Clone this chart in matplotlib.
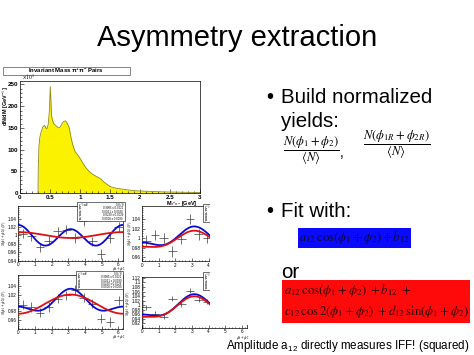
import matplotlib
matplotlib.use("Agg")
import matplotlib.pyplot as plt
import numpy as np
from matplotlib.patches import Rectangle
from matplotlib.ticker import FuncFormatter, MultipleLocator

plt.rcParams["font.family"] = ["Liberation Sans", "DejaVu Sans"]
plt.rcParams["mathtext.fontset"] = "stix"

W, H = 474, 355

# ----- invariant mass spectrum (x10^3 counts) -----
MASS_GEV = [0.300, 0.305, 0.315, 0.33, 0.35, 0.38, 0.41, 0.43, 0.45, 0.47,
            0.49, 0.505, 0.515, 0.525, 0.54, 0.56, 0.60, 0.64, 0.67, 0.70,
            0.73, 0.76, 0.79, 0.82, 0.85, 0.88, 0.92, 0.96, 1.00, 1.05,
            1.10, 1.15, 1.20, 1.25, 1.30, 1.35, 1.40, 1.45, 1.50, 1.60,
            1.70, 1.80, 1.90, 2.00, 2.20, 2.40, 2.60, 2.80, 3.00]
YIELD_K = [0, 60, 105, 128, 140, 152, 156, 150, 148, 158,
           190, 245, 215, 180, 168, 160, 155, 150, 152, 160,
           165, 166, 160, 150, 128, 110, 95, 88, 80, 68,
           58, 50, 44, 40, 36, 32, 25, 20, 15, 11,
           9, 7, 5.5, 4.5, 3.5, 2.5, 2.0, 1.5, 1.2]

# ----- normalized yields vs phi1+phi2 -----
PHI_CENTERS = [0.26, 0.79, 1.31, 1.83, 2.36, 2.88, 3.40, 3.93, 4.45, 4.97, 5.50, 6.02]
PHI_HALF = 0.26
TL_YIELD = [1.004, 0.998, 0.972, 0.988, 1.010, 1.014, 0.994, 1.034, 0.986, 0.956, 0.994, 1.020]
TR_YIELD = [0.995, 1.007, 1.000, 0.972, 0.998, 1.041, 1.008, 1.000]
BL_YIELD = [0.996, 0.990, 0.976, 0.990, 1.010, 1.018, 1.032, 1.012, 0.998, 0.962, 0.954, 1.006]
BR_YIELD = [0.990, 0.963, 0.949, 1.029, 1.005, 1.064, 1.025, 1.015]
ERR = 0.011

# fit parameters [b, a (cos phi), c (cos 2phi)]
TL_BLUE = [0.998, 0.005, 0.022]
TL_RED = [1.001, 0.007, 0.0]
TR_BLUE = [0.9985, -0.017, 0.0095]
TR_RED = [0.9935, -0.017, 0.0055]
BL_BLUE = [0.999, -0.0215, 0.0135]
BL_RED = [0.997, -0.023, 0.0]
BR_BLUE = [0.986, -0.0445, 0.0178]
BR_RED = [0.981, -0.045, 0.013]

STAT_ROWS = [("χ² / ndf", "9.8 / 8"), ("p0", "0.9985 ± 0.0021"), ("p1", "0.0051 ± 0.0030"),
             ("p2", "0.0220 ± 0.0029"), ("p3", "0.0008 ± 0.0030")]

BLUE = "#0a0ad0"
RED = "#e01010"
PT = "#3a3a3a"


def fx(x):
    return x / W


def fy(y):
    return 1 - y / H


def px_axes(fig, x0, y0, x1, y1):
    return fig.add_axes([x0 / W, 1 - y1 / H, (x1 - x0) / W, (y1 - y0) / H])


def fit_curve(p, phi):
    return p[0] + p[1] * np.cos(phi) + p[2] * np.cos(2 * phi)


def small_panel(fig, box, yvals, blue, red, ylim, yticks):
    ax = px_axes(fig, *box)
    phi = np.linspace(0, 2 * np.pi, 300)
    n = len(yvals)
    ax.errorbar(PHI_CENTERS[:n], yvals, yerr=ERR, xerr=PHI_HALF, fmt="none",
                ecolor=PT, elinewidth=0.5, capsize=0, zorder=2)
    ax.plot(phi, fit_curve(blue, phi), color=BLUE, lw=1.3, zorder=3)
    ax.plot(phi, fit_curve(red, phi), color=RED, lw=1.3, zorder=4)
    ax.set_xlim(0, 2 * np.pi)
    ax.set_ylim(*ylim)
    ax.set_yticks(yticks)
    ax.yaxis.set_major_formatter(FuncFormatter(lambda v, _: f"{v:g}"))
    ax.xaxis.set_major_locator(MultipleLocator(1))
    ax.xaxis.set_minor_locator(MultipleLocator(0.2))
    ax.yaxis.set_minor_locator(MultipleLocator(0.005))
    ax.tick_params(which="both", direction="in", labelsize=3.3, width=0.4, pad=1)
    ax.tick_params(which="major", length=2)
    ax.tick_params(which="minor", length=1)
    for s in ax.spines.values():
        s.set_linewidth(0.5)
    return ax


def stat_box(fig, x0, y0, x1, y1):
    fig.add_artist(Rectangle((fx(x0), fy(y1)), fx(x1) - fx(x0), fy(y0) - fy(y1),
                             transform=fig.transFigure, facecolor="white",
                             edgecolor="black", lw=0.4, zorder=2))
    step = (y1 - y0) / (len(STAT_ROWS) + 0.3)
    for i, (k, v) in enumerate(STAT_ROWS):
        yy = y0 + step * (i + 0.8)
        fig.text(fx(x0 + 2), fy(yy), k, fontsize=2.0, va="center", zorder=2.5)
        fig.text(fx(x1 - 2), fy(yy), v, fontsize=2.0, va="center", ha="right", zorder=2.5)


fig = plt.figure(figsize=(W / 100, H / 100), dpi=100)
fig.patch.set_facecolor("white")

# ----- title -----
fig.text(fx(236.7), fy(46), "Asymmetry extraction", fontsize=21,
         ha="center", va="baseline")

# ----- invariant mass histogram -----
ax = px_axes(fig, 20, 81, 200, 193)
ax.fill_between(MASS_GEV, YIELD_K, color="#fbf200", lw=0)
ax.plot(MASS_GEV, YIELD_K, color="#8c8a10", lw=0.6)
ax.set_xlim(0, 3)
ax.set_ylim(0, 258)
ax.xaxis.set_major_locator(MultipleLocator(0.5))
ax.xaxis.set_minor_locator(MultipleLocator(0.1))
ax.yaxis.set_major_locator(MultipleLocator(50))
ax.yaxis.set_minor_locator(MultipleLocator(10))
ax.xaxis.set_major_formatter(FuncFormatter(lambda v, _: f"{v:g}"))
ax.tick_params(which="both", direction="in", labelsize=4.5, width=0.4, pad=1.5)
ax.tick_params(which="major", length=3)
ax.tick_params(which="minor", length=1.5)
for lab in ax.get_xticklabels() + ax.get_yticklabels():
    lab.set_fontweight("bold")
for s in ax.spines.values():
    s.set_linewidth(0.5)
fig.text(fx(5.5), fy(106), "dN/dM [GeV$^{-1}$]", rotation=90, fontsize=4,
         fontweight="bold", ha="center", va="center")
fig.text(fx(22), fy(79), r"$\times10^{3}$", fontsize=4, ha="left", va="baseline")
fig.text(fx(198), fy(205), r"M$_{\pi^{+}\pi^{-}}$ [GeV]", fontsize=4,
         fontweight="bold", ha="right", va="baseline")
fig.add_artist(Rectangle((fx(3), fy(74.7)), fx(127), fy(66.7) - fy(74.7),
                         transform=fig.transFigure, facecolor="white",
                         edgecolor="#555555", lw=0.5, zorder=2))
fig.text(fx(66), fy(70.7), r"Invariant Mass $\mathregular{\pi^{+}\pi^{-}}$ Pairs",
         fontsize=4.3, fontweight="bold", ha="center", va="center", zorder=3)

# ----- four asymmetry panels -----
small_panel(fig, (18.3, 206, 123, 260.7), TL_YIELD, TL_BLUE, TL_RED,
            (0.94, 1.07), [0.94, 0.96, 0.98, 1.0, 1.02, 1.04])
small_panel(fig, (142, 205.7, 246.7, 261.3), TR_YIELD, TR_BLUE, TR_RED,
            (0.951, 1.069), [0.96, 0.98, 1.0, 1.02, 1.04])
small_panel(fig, (18.3, 275, 123, 328.7), BL_YIELD, BL_BLUE, BL_RED,
            (0.938, 1.067), [0.96, 0.98, 1.02, 1.04])
small_panel(fig, (142, 276.7, 246.7, 328), BR_YIELD, BR_BLUE, BR_RED,
            (0.90, 1.125), [0.92, 0.94, 0.96, 0.98, 1.0, 1.02, 1.04, 1.06, 1.08, 1.1, 1.12])

ylab = r"$N(\phi_1+\phi_2)/\langle N\rangle$"
for x, y in [(4.5, 233), (129.5, 233), (4.5, 302), (128.5, 303)]:
    fig.text(fx(x), fy(y), ylab, rotation=90, fontsize=2.8, ha="center", va="center")
for x, y in [(119, 269), (119, 337), (243, 338)]:
    fig.text(fx(x), fy(y), r"$\phi_1+\phi_2$", fontsize=2.8, ha="center", va="center")

stat_box(fig, 76.7, 201.7, 125, 220.7)
stat_box(fig, 203, 204, 251, 222)
stat_box(fig, 76, 271, 123.3, 289)
stat_box(fig, 203, 272, 251, 290)

# white text placeholder covering the right part of the plots
fig.add_artist(Rectangle((fx(210), fy(324.5)), 1 - fx(210), fy(199) - fy(324.5),
                         transform=fig.transFigure, facecolor="white",
                         edgecolor="none", zorder=5))

# ----- bullet text -----
TXT = dict(fontsize=14.8, va="baseline", zorder=6)
fig.text(fx(266.5), fy(102.7), "•", ha="left", **TXT)
fig.text(fx(280.7), fy(102.7), "Build normalized", ha="left", **TXT)
fig.text(fx(280.7), fy(126.7), "yields:", ha="left", **TXT)
fig.text(fx(266.5), fy(216.7), "•", ha="left", **TXT)
fig.text(fx(280.7), fy(216.7), "Fit with:", ha="left", **TXT)
fig.text(fx(280.7), fy(277.7), "or", ha="left", **TXT)

fig.text(fx(311.7), fy(151), r"$\dfrac{N(\phi_1+\phi_2)}{\langle N\rangle}$",
         fontsize=9, ha="center", va="center", zorder=6)
fig.text(fx(342), fy(153), ",", fontsize=10, ha="center", va="center", zorder=6)
fig.text(fx(397), fy(145), r"$\dfrac{N(\phi_{1R}+\phi_{2R})}{\langle N\rangle}$",
         fontsize=9, ha="center", va="center", zorder=6)

fig.add_artist(Rectangle((fx(297.7), fy(248.3)), fx(113), fy(227.7) - fy(248.3),
                         transform=fig.transFigure, facecolor="#0a0aff",
                         edgecolor="none", zorder=6))
fig.text(fx(354), fy(238), r"$a_{12}\,\cos(\phi_1+\phi_2)+b_{12}$",
         fontsize=9.2, color="#0a0a30", ha="center", va="center", zorder=7)

fig.add_artist(Rectangle((fx(281.7), fy(323.3)), fx(188.3), fy(280) - fy(323.3),
                         transform=fig.transFigure, facecolor="#ff0a0a",
                         edgecolor="none", zorder=6))
fig.text(fx(284), fy(290.5), r"$a_{12}\,\cos(\phi_1+\phi_2)\ +b_{12}\ +$",
         fontsize=9.2, color="#2a0000", ha="left", va="center", zorder=7)
fig.text(fx(284), fy(312), r"$c_{12}\,\cos 2(\phi_1+\phi_2)\ +d_{12}\,\sin(\phi_1+\phi_2)$",
         fontsize=9.2, color="#2a0000", ha="left", va="center", zorder=7)

fig.text(fx(226), fy(349), r"Amplitude a$\mathregular{_{12}}$ directly measures IFF! (squared)",
         fontsize=8.4, ha="left", va="baseline", zorder=7)

fig.savefig("out.png", dpi=100, facecolor="white")
